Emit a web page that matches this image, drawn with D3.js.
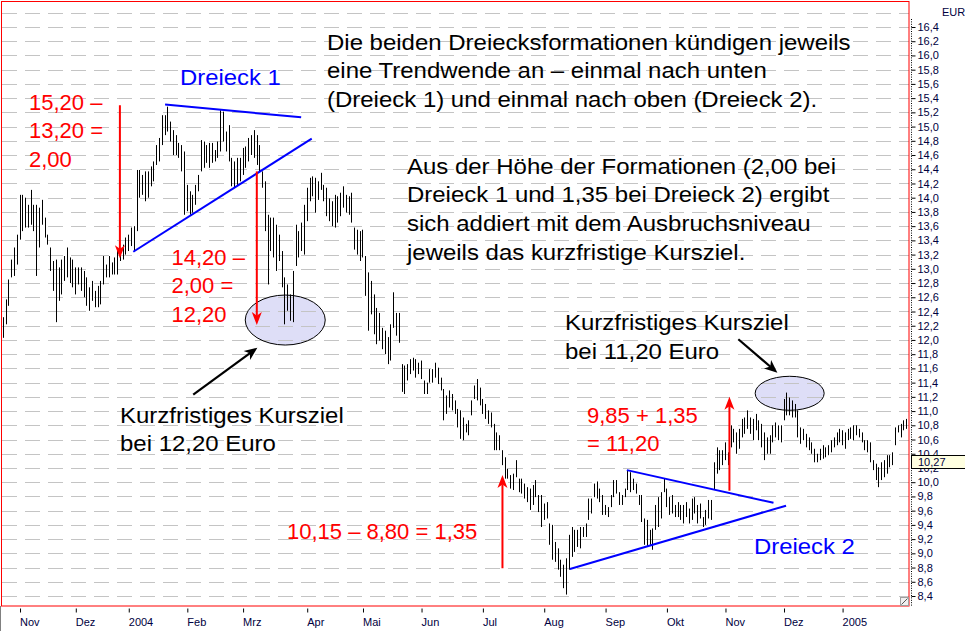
<!DOCTYPE html>
<html>
<head>
<meta charset="utf-8">
<script src="https://cdn.jsdelivr.net/npm/d3@7"></script>
<style>
body { margin: 0; background: #fff; }
svg { display: block; font-family: "Liberation Sans", Arial, sans-serif; }
</style>
</head>
<body>
<svg id="chart" width="965" height="631"></svg>
<script>
// month ticks on the time axis (bar index of first trading day)
const monthLabels = ["Nov", "Dez", "2004", "Feb", "Mrz", "Apr", "Mai", "Jun", "Jul", "Aug", "Sep", "Okt", "Nov", "Dez", "2005"]
const monthStart = [6, 26, 45, 66, 86, 109, 129, 150, 172, 194, 216, 238, 259, 280, 301]

// price ticks on the right axis
const priceTicks = [8.4, 8.6, 8.8, 9.0, 9.2, 9.4, 9.6, 9.8, 10.0, 10.2, 10.4, 10.6, 10.8, 11.0, 11.2, 11.4, 11.6, 11.8,
    12.0, 12.2, 12.4, 12.6, 12.8, 13.0, 13.2, 13.4, 13.6, 13.8, 14.0, 14.2, 14.4, 14.6, 14.8, 15.0, 15.2, 15.4, 15.6,
    15.8, 16.0, 16.2, 16.4]
const gridValues = priceTicks.concat([16.6])

// daily highs / lows (EUR), Okt 2003 - Jan 2005
const highs = [
    12.32, 12.57, 12.85, 13.13, 13.30, 13.48, 14.04, 14.04, 14.00, 13.90,
    14.11, 13.90, 13.90, 13.86, 13.97, 13.72, 13.48, 13.30, 13.11, 13.13,
    13.02, 13.13, 13.18, 13.30, 13.16, 13.13, 13.02, 13.02, 13.02, 12.97,
    12.88, 12.74, 12.83, 12.69, 12.76, 12.83, 13.18, 13.06, 13.18, 13.09,
    13.16, 13.25, 13.25, 13.34, 13.44, 13.48, 13.58, 13.60, 14.39, 14.39,
    14.32, 14.37, 14.37, 14.44, 14.51, 14.74, 14.84, 15.16, 15.16, 15.28,
    15.07, 14.95, 14.88, 14.77, 14.74, 14.65, 14.18, 14.09, 14.04, 14.18,
    14.32, 14.81, 14.79, 14.74, 14.77, 14.77, 14.67, 14.79, 15.23, 15.21,
    14.93, 15.02, 14.56, 14.51, 14.56, 14.56, 14.70, 14.72, 14.84, 14.88,
    14.95, 14.88, 14.74, 14.37, 14.23, 13.76, 13.72, 13.72, 13.62, 13.48,
    13.25, 12.88, 12.78, 12.64, 12.97, 13.62, 13.53, 13.65, 13.90, 14.14,
    14.28,
    14.30, 14.28, 14.23, 14.35, 14.18, 14.14, 13.99, 13.95, 14.04, 14.02,
    14.07, 14.16, 14.04, 14.02, 14.07, 13.58, 13.55, 13.53, 13.55, 13.18,
    12.95, 12.83, 12.64, 12.45, 12.38, 12.17, 12.13, 12.04, 12.22, 12.67,
    12.38, 12.38, 11.66, 11.64, 11.66, 11.73, 11.75, 11.73, 11.68, 11.71,
    11.43, 11.40, 11.59, 11.59, 11.68, 11.61, 11.47, 11.31, 11.22, 11.29,
    11.24, 11.15, 11.03, 11.01, 10.91, 10.82, 10.87,
    11.15, 11.36, 11.45, 11.33, 11.17, 11.10, 11.01, 10.98, 10.82, 10.70,
    10.66, 10.45, 10.35, 10.19, 10.10, 10.12, 10.31, 10.05, 10.05, 9.98,
    9.93, 9.91, 9.96, 10.03, 9.82, 9.82, 9.70, 9.72, 9.42, 9.40,
    9.16, 9.07, 8.91, 8.84, 8.93, 9.26, 9.37, 9.33, 9.33, 9.37,
    9.37, 9.42, 9.77, 9.77, 9.98, 10.01, 9.91, 9.82, 9.68, 9.65,
    9.82, 10.03, 10.03, 9.86, 9.82, 9.91, 10.17, 10.14,
    10.05, 9.98, 9.82, 9.82, 9.49, 9.47, 9.33, 9.35, 9.68, 9.79,
    9.86, 10.05, 9.91, 9.79, 9.82, 9.68, 9.72, 9.68, 9.68, 9.72,
    9.63, 9.77, 9.79, 9.68, 9.70, 9.51, 9.61, 9.75, 9.75, 10.28,
    10.49, 10.45, 10.45, 10.56, 10.42, 10.80, 10.75, 10.70, 10.75, 10.89,
    10.91, 11.01, 10.91, 10.89, 10.96, 10.87, 10.82, 10.70, 10.63,
    10.66, 10.80, 10.84, 10.80, 10.80, 11.17, 11.26, 11.19, 11.15, 11.10,
    11.01, 10.77, 10.75, 10.68, 10.63, 10.56, 10.47, 10.40, 10.47, 10.52,
    10.49, 10.52, 10.59, 10.63, 10.70, 10.75, 10.73, 10.70, 10.75, 10.77,
    10.80, 10.80, 10.75, 10.70, 10.59, 10.59, 10.56, 10.31, 10.26, 10.21,
    10.28, 10.31, 10.38, 10.38, 10.42, 10.77, 10.80, 10.82, 10.87, 10.89
]
const lows = [
    12.03, 12.22, 12.48, 12.88, 12.90, 13.06, 13.41, 13.53, 13.58, 13.58,
    13.62, 13.53, 12.90, 13.30, 13.62, 13.44, 13.34, 12.97, 12.69, 12.25,
    12.55, 12.64, 12.83, 12.88, 12.80, 12.74, 12.64, 12.78, 12.69, 12.60,
    12.48, 12.41, 12.55, 12.46, 12.46, 12.50, 12.78, 12.88, 12.88, 12.92,
    12.92, 12.92, 13.11, 13.13, 13.20, 13.25, 13.32, 13.25, 13.53, 14.00,
    14.04, 13.95, 14.00, 14.16, 14.23, 14.46, 14.51, 14.74, 14.88, 14.93,
    14.79, 14.60, 14.60, 14.56, 14.37, 13.76, 13.81, 13.76, 13.79, 13.90,
    14.09, 14.37, 14.42, 14.49, 14.42, 14.49, 14.51, 14.56, 14.65, 14.79,
    14.65, 14.51, 14.16, 14.14, 14.18, 14.23, 14.32, 14.42, 14.51, 14.60,
    14.56, 14.46, 14.37, 14.14, 13.53, 12.78, 13.25, 13.16, 12.97, 13.11,
    12.74, 12.22, 12.41, 12.27, 12.25, 13.04, 13.16, 13.25, 13.20, 13.67,
    13.95,
    14.02, 13.79, 13.97, 14.11, 13.95, 13.74, 13.67, 13.60, 13.58, 13.65,
    13.74, 13.86, 13.79, 13.76, 13.65, 13.27, 13.20, 13.11, 13.16, 12.62,
    12.13, 12.36, 12.08, 11.94, 11.99, 11.87, 11.80, 11.66, 11.71, 12.17,
    12.06, 11.96, 11.27, 11.24, 11.43, 11.52, 11.57, 11.47, 11.52, 11.45,
    11.24, 11.24, 11.40, 11.40, 11.47, 11.38, 11.29, 10.87, 10.96, 11.05,
    11.01, 10.96, 10.77, 10.61, 10.59, 10.70, 10.66,
    10.94, 11.17, 11.15, 11.08, 10.96, 10.89, 10.82, 10.77, 10.45, 10.45,
    10.45, 10.24, 10.05, 10.05, 9.91, 9.89, 10.07, 9.86, 9.84, 9.77,
    9.72, 9.61, 9.68, 9.79, 9.58, 9.37, 9.47, 9.49, 9.12, 8.91,
    8.88, 8.77, 8.67, 8.51, 8.42, 8.77, 8.95, 9.02, 9.09, 9.07,
    9.23, 9.23, 9.47, 9.56, 9.79, 9.77, 9.72, 9.54, 9.54, 9.51,
    9.65, 9.79, 9.84, 9.68, 9.68, 9.79, 9.89, 9.86,
    9.89, 9.84, 9.68, 9.44, 9.12, 9.09, 9.12, 9.05, 9.33, 9.37,
    9.49, 9.86, 9.65, 9.54, 9.56, 9.51, 9.51, 9.47, 9.42, 9.51,
    9.42, 9.47, 9.56, 9.42, 9.49, 9.37, 9.40, 9.49, 9.47, 9.89,
    10.12, 10.17, 10.24, 10.31, 10.24, 10.49, 10.56, 10.40, 10.47, 10.63,
    10.68, 10.75, 10.68, 10.59, 10.73, 10.59, 10.49, 10.31, 10.40,
    10.40, 10.56, 10.63, 10.59, 10.56, 10.87, 10.94, 10.94, 10.91, 10.91,
    10.63, 10.54, 10.59, 10.49, 10.45, 10.40, 10.28, 10.28, 10.31, 10.33,
    10.35, 10.38, 10.42, 10.49, 10.52, 10.56, 10.52, 10.47, 10.59, 10.61,
    10.59, 10.66, 10.63, 10.56, 10.45, 10.42, 10.28, 10.17, 10.03, 9.93,
    10.03, 10.07, 10.12, 10.21, 10.24, 10.52, 10.70, 10.63, 10.73, 10.75
]
const lastPrice = 10.27

// triangle lines, [bar index, price]
const triangleLines = [
    [[58.2, 15.31], [107.0, 15.13]],
    [[46.8, 13.24], [110.8, 14.83]],
    [[223.8, 10.17], [276.4, 9.71]],
    [[203.4, 8.78], [280.9, 9.67]]
]
// red measuring arrows (from -> tip)
const heightArrows = [
    [[42.0, 15.30], [42.0, 13.15]],
    [[91.1, 14.37], [91.1, 12.21]],
    [[179.2, 8.79], [179.2, 10.10]],
    [[260.6, 9.88], [260.6, 11.20]]
]
// target zones
const targets = [
    { i: 101.3, p: 12.28, rx: 40, ry: 25 },
    { i: 282.2, p: 11.25, rx: 34.5, ry: 17 }
]
const pointerArrows = [
    [[68.3, 11.23], [91.3, 11.89]],
    [[263.8, 12.01], [277.8, 11.54]]
]

const svg = d3.select("#chart")
const x = d3.scaleLinear().domain([-1, 325]).range([0, 909])
const y = d3.scaleLinear().domain([8.4, 16.4]).range([596, 27])
const fmt = d => d3.format(".1f")(d).replace(".", ",")
const axisColor = "#000040"

svg.append("rect").attr("width", 965).attr("height", 631).attr("fill", "#fff")

svg.append("defs").append("clipPath").attr("id", "plotclip")
    .append("rect").attr("x", 1).attr("y", 1).attr("width", 908).attr("height", 605)

const plot = svg.append("g").attr("clip-path", "url(#plotclip)")

// zone fills sit under the grid
plot.selectAll(".zone")
    .data(targets)
    .join("ellipse")
    .attr("cx", d => x(d.i))
    .attr("cy", d => y(d.p))
    .attr("rx", d => d.rx)
    .attr("ry", d => d.ry)
    .attr("fill", "#dedef7")

plot.selectAll(".grid")
    .data(gridValues)
    .join("line")
    .attr("x1", 2)
    .attr("x2", 909)
    .attr("y1", d => Math.round(y(d)) + 0.5)
    .attr("y2", d => Math.round(y(d)) + 0.5)
    .attr("stroke", "#c4c4c4")
    .attr("stroke-dasharray", "15,8")

plot.selectAll(".bar")
    .data(highs)
    .join("line")
    .attr("x1", (d, i) => Math.round(x(i)) + 0.5)
    .attr("x2", (d, i) => Math.round(x(i)) + 0.5)
    .attr("y1", d => y(d))
    .attr("y2", (d, i) => y(lows[i]))
    .attr("stroke", "#000")
    .attr("stroke-width", 1)

plot.selectAll(".zoneline")
    .data(targets)
    .join("ellipse")
    .attr("cx", d => x(d.i))
    .attr("cy", d => y(d.p))
    .attr("rx", d => d.rx)
    .attr("ry", d => d.ry)
    .attr("fill", "none")
    .attr("stroke", "#000")
    .attr("stroke-width", 1)

plot.selectAll(".tri")
    .data(triangleLines)
    .join("line")
    .attr("x1", d => x(d[0][0]))
    .attr("y1", d => y(d[0][1]))
    .attr("x2", d => x(d[1][0]))
    .attr("y2", d => y(d[1][1]))
    .attr("stroke", "#0000ff")
    .attr("stroke-width", 2)

function arrow(g, a, b, color, w, len, half) {
    const x1 = x(a[0]), y1 = y(a[1]), x2 = x(b[0]), y2 = y(b[1])
    const ang = Math.atan2(y2 - y1, x2 - x1)
    g.append("line")
        .attr("x1", x1).attr("y1", y1)
        .attr("x2", x2 - Math.cos(ang) * len * 0.7)
        .attr("y2", y2 - Math.sin(ang) * len * 0.7)
        .attr("stroke", color)
        .attr("stroke-width", w)
    g.append("path")
        .attr("d", `M0,0L${-len},${-half}L${-len * 0.72},0L${-len},${half}Z`)
        .attr("transform", `translate(${x2},${y2}) rotate(${ang * 180 / Math.PI})`)
        .attr("fill", color)
}

heightArrows.forEach(d => arrow(plot, d[0], d[1], "#ff0000", 2, 13, 5))
pointerArrows.forEach(d => arrow(plot, d[0], d[1], "#000", 2.2, 13, 5.5))

// frame
svg.append("rect")
    .attr("x", 1.5).attr("y", 1.5)
    .attr("width", 907.5).attr("height", 604.5)
    .attr("fill", "none")
    .attr("stroke", "#ff0000")
svg.append("line")
    .attr("x1", 0.5).attr("x2", 0.5).attr("y1", 606).attr("y2", 631)
    .attr("stroke", "#808080")

// size grip
svg.append("rect").attr("x", 900.5).attr("y", 597.5).attr("width", 8).attr("height", 8)
    .attr("fill", "#f0f0f0").attr("stroke", "#a0a0a0")
svg.append("line").attr("x1", 901.5).attr("y1", 604.5).attr("x2", 907.5).attr("y2", 598.5)
    .attr("stroke", "#555")

// right price axis
svg.append("line")
    .attr("x1", 911.5).attr("x2", 911.5).attr("y1", 19).attr("y2", 607)
    .attr("stroke", "#000")
    .attr("stroke-dasharray", "1,1.4")

const yAxis = svg.append("g")
    .attr("transform", "translate(911.5,0)")
    .call(d3.axisRight(y).tickValues(priceTicks).tickSize(4).tickSizeOuter(0).tickPadding(2).tickFormat(fmt))
yAxis.select(".domain").remove()
yAxis.selectAll("line").attr("stroke", "#000")
yAxis.selectAll("text")
    .attr("fill", axisColor)
    .attr("font-size", 11)
    .attr("font-family", "'Liberation Sans', Arial, sans-serif")

svg.append("text")
    .attr("x", 942).attr("y", 15.5)
    .attr("font-size", 11)
    .attr("fill", axisColor)
    .text("EUR")

// last price box, drawn over the axis labels like the original
const lp = svg.append("g").attr("transform", `translate(911.5,${Math.round(y(lastPrice)) - 7.5})`)
lp.append("rect").attr("width", 60).attr("height", 13).attr("fill", "#ffffe1").attr("stroke", "#000")
lp.append("text").attr("x", 6.5).attr("y", 10.5).attr("font-size", 11).attr("fill", axisColor)
    .text(d3.format(".2f")(lastPrice).replace(".", ","))

// bottom time axis
const xAxis = svg.append("g")
    .attr("transform", "translate(0,608.5)")
    .call(d3.axisBottom(x).tickValues(monthStart).tickSize(4).tickSizeOuter(0)
        .tickFormat((d, i) => monthLabels[i]))
xAxis.select(".domain").remove()
xAxis.selectAll(".tick line").attr("stroke", "#000").attr("transform", "translate(0.5,0)")
xAxis.selectAll("text")
    .attr("text-anchor", "start")
    .attr("x", 0)
    .attr("y", 17.5)
    .attr("dy", 0)
    .attr("fill", axisColor)
    .attr("font-size", 11)
    .attr("font-family", "'Liberation Sans', Arial, sans-serif")

// annotation texts
const notes = svg.append("g").attr("font-size", 22)

function note(t, px, py, color, sx) {
    notes.append("text")
        .attr("transform", `translate(${px},${py}) scale(${sx},1)`)
        .attr("fill", color)
        .text(t)
}

const blackLines1 = ["Die beiden Dreiecksformationen kündigen jeweils",
    "eine Trendwende an – einmal nach unten",
    "(Dreieck 1) und einmal nach oben (Dreieck 2)."]
blackLines1.forEach((t, k) => note(t, 327, 50 + k * 28.3, "#000", 1.09))

const blackLines2 = ["Aus der Höhe der Formationen (2,00 bei",
    "Dreieck 1 und 1,35 bei Dreieck 2) ergibt",
    "sich addiert mit dem Ausbruchsniveau",
    "jeweils das kurzfristige Kursziel."]
blackLines2.forEach((t, k) => note(t, 407, 173.5 + k * 28.8, "#000", 1.09))

note("Kurzfristiges Kursziel", 120, 422.5, "#000", 1.09)
note("bei 12,20 Euro", 120, 451, "#000", 1.09)
note("Kurzfristiges Kursziel", 565, 330, "#000", 1.09)
note("bei 11,20 Euro", 565, 358.5, "#000", 1.09)

note("Dreieck 1", 180, 85, "#0000ff", 1.085)
note("Dreieck 2", 754, 554, "#0000ff", 1.085)

const red1 = ["15,20 –", "13,20 =", "2,00"]
red1.forEach((t, k) => note(t, 29, 110 + k * 28.3, "#ff0000", 1))
const red2 = ["14,20 –", "2,00 =", "12,20"]
red2.forEach((t, k) => note(t, 171.5, 265 + k * 28.3, "#ff0000", 1))
note("9,85 + 1,35", 587, 423, "#ff0000", 1)
note("= 11,20", 587, 451, "#ff0000", 1)
note("10,15 – 8,80 = 1,35", 287, 539, "#ff0000", 1)
</script>
</body>
</html>
